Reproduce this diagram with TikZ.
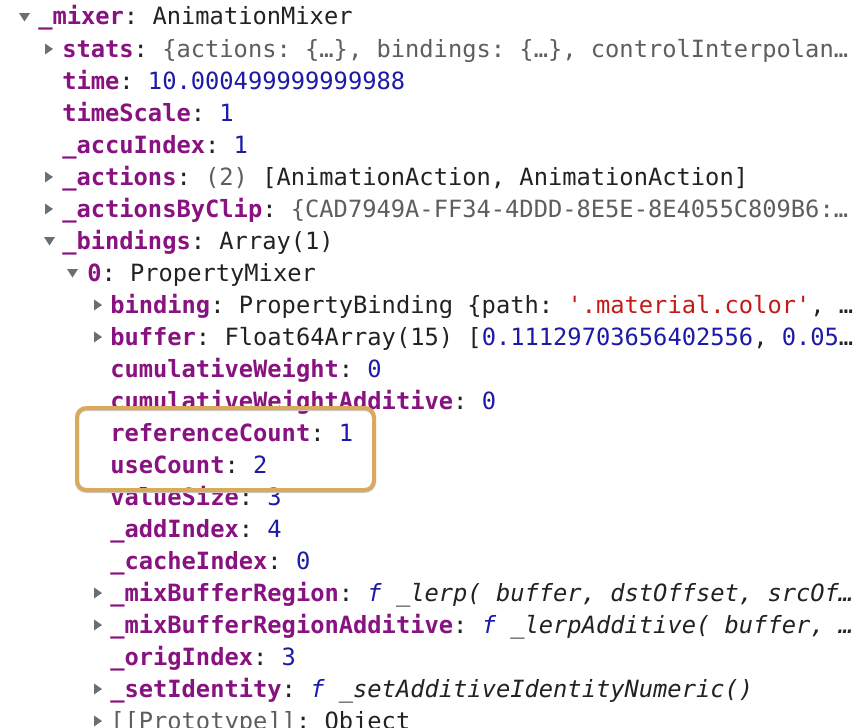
\documentclass[tikz,border=0pt]{standalone}
\usepackage{fontspec}
\setmonofont{DejaVu Sans Mono}
\definecolor{keyc}{HTML}{881280}
\definecolor{numc}{HTML}{1C1AA6}
\definecolor{strc}{HTML}{C41A16}
\definecolor{grayc}{HTML}{5E5E5E}
\definecolor{txtc}{HTML}{222222}
\definecolor{boxc}{HTML}{D9AA5E}
\definecolor{tric}{HTML}{6E6E6E}
\newcommand{\K}[1]{\textcolor{keyc}{\bfseries #1}}
\newcommand{\N}[1]{\textcolor{numc}{#1}}
\newcommand{\Sx}[1]{\textcolor{strc}{#1}}
\newcommand{\G}[1]{\textcolor{grayc}{#1}}
\newcommand{\F}{\textcolor{numc}{\itshape f}}
\begin{document}
\begin{tikzpicture}[x=0.75pt,y=-0.75pt,
  ln/.style={anchor=base west,inner sep=0pt,font=\ttfamily\fontsize{17.8}{19}\selectfont,text=txtc}]
\path[use as bounding box] (0,0) rectangle (868,728);
\clip (0,0) rectangle (868,728);
\fill[white] (0,0) rectangle (868,728);
\newcommand{\TR}[2]{\fill[tric] (#1,#2-5.5) -- (#1+8,#2) -- (#1,#2+5.5) -- cycle;}
\newcommand{\TD}[2]{\fill[tric] (#1-1,#2-4) -- (#1+10,#2-4) -- (#1+4.5,#2+4.5) -- cycle;}
\TD{20}{17}
\TR{45}{49}
\TR{45}{177}
\TR{45}{209}
\TD{45}{241}
\TD{68}{273}
\TR{94}{305}
\TR{94}{337}
\TR{94}{593}
\TR{94}{625}
\TR{94}{689}
\TR{94}{721}
\node[ln] (l0) at (38,25) {\K{\_mixer}: AnimationMixer};
\node[ln] (l1) at (62,57) {\K{stats}: \G{\{actions: \{…\}, bindings: \{…\}, controlInterpolan…}};
\node[ln] (l2) at (62,89) {\K{time}: \N{10.000499999999988}};
\node[ln] (l3) at (62,121) {\K{timeScale}: \N{1}};
\node[ln] (l4) at (62,153) {\K{\_accuIndex}: \N{1}};
\node[ln] (l5) at (62,185) {\K{\_actions}: \G{(2)} [AnimationAction, AnimationAction]};
\node[ln] (l6) at (62,217) {\K{\_actionsByClip}: \G{\{CAD7949A-FF34-4DDD-8E5E-8E4055C809B6:…}};
\node[ln] (l7) at (62,249) {\K{\_bindings}: Array(1)};
\node[ln] (l8) at (87,281) {\K{0}: PropertyMixer};
\node[ln] (l9) at (110,313) {\K{binding}: PropertyBinding \{path: \Sx{'.material.color'}, …};
\node[ln] (l10) at (110,345) {\K{buffer}: Float64Array(15) [\N{0.11129703656402556}, \N{0.05}…};
\node[ln] (l11) at (110,377) {\K{cumulativeWeight}: \N{0}};
\node[ln] (l12) at (110,409) {\K{cumulativeWeightAdditive}: \N{0}};
\node[ln] (l13) at (110,441) {\K{referenceCount}: \N{1}};
\node[ln] (l14) at (110,473) {\K{useCount}: \N{2}};
\node[ln] (l15) at (110,505) {\K{valueSize}: \N{3}};
\node[ln] (l16) at (110,537) {\K{\_addIndex}: \N{4}};
\node[ln] (l17) at (110,569) {\K{\_cacheIndex}: \N{0}};
\node[ln] (l18) at (110,601) {\K{\_mixBufferRegion}: \F{} \itshape \_lerp( buffer, dstOffset, srcOf…};
\node[ln] (l19) at (110,633) {\K{\_mixBufferRegionAdditive}: \F{} \itshape \_lerpAdditive( buffer, …};
\node[ln] (l20) at (110,665) {\K{\_origIndex}: \N{3}};
\node[ln] (l21) at (110,697) {\K{\_setIdentity}: \F{} \itshape \_setAdditiveIdentityNumeric()};
\node[ln] (l22) at (110,729) {\G{[[Prototype]]}: Object};
\draw[black!20,line width=3pt,rounded corners=7pt] (77,409) rectangle (374,491);
\node[draw=boxc,line width=3pt,rounded corners=7pt,inner sep=0pt,minimum width=297pt*0.75,minimum height=82pt*0.75,anchor=north west] (hl) at (75,406) {};
\end{tikzpicture}
\end{document}
